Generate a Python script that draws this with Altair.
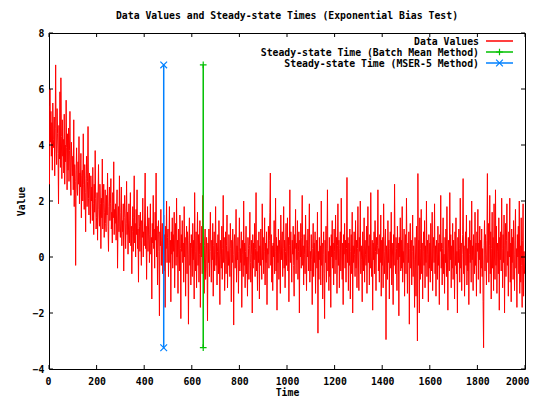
import altair as alt
import pandas as pd

title_text = "Data Values and Steady-state Times (Exponential Bias Test)"
x_label = "Time"
y_label = "Value"
x_ticks = [0, 200, 400, 600, 800, 1000, 1200, 1400, 1600, 1800, 2000]
y_ticks = [-4, -2, 0, 2, 4, 6, 8]
time_step = 2

values_0_498 = [
    5.4, 2.6, 6.0, 4.1, 5.2, 3.6, 4.8, 3.1, 5.5, 4.2,
    3.9, 5.0, 2.9, 4.6, 6.86, 4.0, 3.3, 5.3, 4.4, 3.7,
    1.9, 4.7, 3.5, 5.9, 3.2, 6.4, 4.3, 2.8, 4.9, 3.6,
    4.2, 3.0, 5.1, 2.6, 4.0, 3.4, 5.6, 3.9, 2.4, 4.4,
    3.1, 4.6, 2.7, 3.8, 5.2, 3.0, 2.2, 4.1, 3.5, 2.9,
    3.6, 2.4, 4.9, 1.8, 3.3, 2.7, -0.3, 3.1, 3.9, 2.5,
    2.2, 3.4, 2.6, 4.3, 1.9, 3.0, 2.5, 3.7, 1.4, 2.9,
    3.1, 2.0, 4.4, 2.6, 1.7, 3.3, 2.3, 0.9, 2.8, 3.6,
    1.8, 2.7, 4.66, 2.1, 1.5, 3.0, 2.4, 1.2, 2.9, 2.0,
    2.5, 1.3, 3.2, 1.9, 0.8, 2.6, 1.6, 3.8, 2.1, 1.0,
    1.4, 2.3, 0.6, 2.0, 3.3, 1.7, 1.1, 2.6, 1.9, 0.3,
    2.1, 1.4, 3.5, 1.0, 1.9, 2.6, 0.7, 1.6, 2.4, 1.2,
    0.9, 2.2, 1.5, 3.0, 1.1, 0.2, 1.8, 2.5, 1.3, 1.9,
    2.8, 1.0, 1.6, 0.5, 2.3, 1.4, 3.4, 0.8, 1.7, 1.2,
    1.9, 0.6, 1.5, 2.4, -0.4, 1.2, 1.8, 0.9, 2.9, 1.1,
    0.7, 1.6, 2.5, 0.4, 1.3, 0.9, 1.9, -0.5, 1.4, 2.2,
    1.5, 0.3, 1.2, 2.7, 0.8, 1.6, 0.1, 1.0, 1.9, 0.5,
    1.3, 2.3, 0.4, 1.1, -0.6, 0.9, 1.8, 0.2, 1.4, 2.9,
    0.5, 1.2, 0.0, 1.7, 0.8, 2.4, 0.3, 1.0, -0.9, 1.5,
    1.1, 0.2, 1.6, 0.6, -0.3, 1.3, 0.7, 2.1, 0.0, 0.9,
    0.4, 1.5, 3.0, 0.3, 1.1, -0.8, 0.6, 1.8, 0.2, 1.0,
    1.4, -0.2, 0.8, 1.9, 0.1, 0.7, -1.5, 1.2, 0.5, 2.2,
    0.3, 1.0, -0.4, 1.6, 0.6, 3.0, 0.0, 1.1, -1.0, 0.8,
    1.3, 0.2, -2.1, 0.9, 0.4, 1.7, -0.3, 0.6, 1.2, -0.6,
    0.5, 1.5, -0.5, 0.8, -1.8, 1.1, 0.3, 2.0, -0.2, 0.7,
]
values_500_998 = [
    1.0, -0.7, 0.4, 1.8, -0.2, 0.6, -1.6, 0.9, 0.1, 1.4,
    -0.4, 0.8, 0.2, 1.6, -1.1, 0.5, 1.2, -0.3, 2.1, 0.0,
    0.6, -1.3, 1.0, 0.1, -0.5, 1.5, 0.3, -2.2, 0.8, 0.2,
    1.3, -0.2, 0.5, -0.9, 1.8, 0.0, 0.7, -1.4, 0.4, 1.1,
    -0.6, 0.9, 0.1, -2.4, 0.6, 1.4, -0.3, 0.5, -1.0, 0.8,
    0.3, -0.7, 1.2, -0.1, 0.6, -1.5, 2.3, 0.2, -0.5, 0.9,
    -1.1, 0.4, 1.6, -0.3, 0.8, -0.9, 0.1, 1.3, -1.8, 0.5,
    0.0, 1.1, -0.6, 2.2, -0.2, 0.7, -1.3, 0.4, 1.0, -0.8,
    -0.4, 0.7, 0.1, -2.28, 0.5, -0.2, 1.0, -0.7, 0.3, 1.6,
    0.2, -0.9, 0.6, -0.1, 1.2, -1.4, 0.4, 0.9, -0.5, 0.1,
    1.8, -0.3, 0.5, -1.0, 0.2, 0.8, -0.6, 1.3, 0.0, -1.7,
    0.6, 0.1, -0.4, 1.1, -0.8, 0.3, 2.2, -0.2, 0.7, -1.2,
    -0.1, 0.9, -0.6, 0.4, 1.5, -1.1, 0.2, -0.3, 0.8, 0.0,
    -0.7, 1.2, 0.3, -1.6, 0.6, -0.2, 1.0, 0.1, -2.43, 0.5,
    0.8, -0.4, 0.0, 1.7, -0.9, 0.4, -0.1, 0.7, -1.3, 0.2,
    1.4, -0.5, 0.3, -0.2, 0.9, -1.8, 0.1, 0.6, -0.7, 2.0,
    -0.3, 0.5, -1.1, 0.2, 1.1, -0.6, 0.0, -1.4, 0.7, 0.3,
    -0.8, 0.4, 1.6, -0.2, -0.9, 0.6, 0.1, -2.0, 0.8, -0.4,
    0.5, -0.1, 1.2, -0.7, 0.3, 2.3, -0.5, 0.2, -1.2, 0.6,
    -0.2, 0.9, -1.5, 0.4, -0.3, 1.0, 0.0, -0.8, 1.9, -0.1,
    0.7, -0.6, 0.2, 1.4, -1.0, 0.5, -0.2, 0.9, -1.7, 0.3,
    0.1, 1.1, -0.4, 0.6, 1.6, 3.0, -0.3, 0.8, -0.9, 0.4,
    -1.2, 0.5, 0.0, 1.3, -0.6, 0.2, 2.1, -0.5, 0.7, -1.9,
    0.4, -0.2, 1.0, -0.8, 0.6, 0.1, -1.3, 1.5, -0.1, 0.5,
    0.9, -0.7, 0.3, 1.8, -0.4, 0.6, -1.1, 0.2, 1.2, -0.3,
]
values_1000_1498 = [
    0.2, 1.4, -0.5, 0.7, -1.6, 0.4, 2.4, -0.2, 0.9, 0.0,
    -0.9, 0.6, 0.1, 1.1, -0.3, -1.4, 0.8, 0.3, 1.7, -0.6,
    0.5, -0.1, 1.3, -0.8, 0.2, 0.9, -2.0, 0.6, 0.0, 1.2,
    -0.4, 0.7, 2.2, -0.3, 0.4, -1.0, 0.8, 0.1, -0.6, 1.5,
    0.3, -1.2, 0.6, 0.0, 1.0, -0.5, 0.4, 1.9, -0.9, 0.2,
    -0.5, 0.8, -0.1, -1.7, 0.3, 1.2, -0.7, 0.5, -0.2, 0.9,
    -1.3, 0.1, 0.6, -0.4, 1.6, -2.72, 0.2, -0.8, 0.7, -0.1,
    0.4, -1.0, 2.0, -0.3, 0.5, -1.5, 0.1, 0.9, -0.6, -2.2,
    0.6, -0.2, 1.1, -0.9, 0.3, 2.4, -0.5, 0.2, -1.2, 0.7,
    -0.7, 0.4, -1.8, 0.8, 0.0, 1.3, -0.4, 0.5, -1.0, 1.0,
    0.2, -0.6, 1.5, -0.1, 0.7, -1.3, 0.4, 1.9, -0.3, 0.6,
    -1.1, 0.3, 0.9, -0.5, 2.1, 0.0, -0.8, 0.5, -1.7, 0.8,
    0.1, 1.2, -0.4, 0.6, -0.9, 0.3, 2.84, -0.2, 0.7, -1.2,
    0.5, -0.3, 1.0, -1.5, 0.2, 0.8, -0.6, 1.6, -2.0, 0.4,
    -0.2, 0.9, 0.1, -0.7, 1.3, -0.4, 0.6, -1.1, 0.3, 1.8,
    0.0, -1.2, 0.7, 0.2, 2.0, -0.6, 0.4, -0.1, -1.6, 0.9,
    0.3, -0.5, 1.4, -0.9, 0.6, 0.1, -0.3, 1.1, -1.3, 0.5,
    1.8, -0.2, 0.4, -1.0, 0.8, -0.4, 2.3, 0.0, -0.7, 0.6,
    -1.9, 0.5, -0.1, 0.9, -0.6, 1.3, 0.2, -1.2, 0.7, 0.1,
    0.4, 2.4, -0.5, 0.3, -0.9, 0.8, -0.2, 1.5, -1.4, 0.6,
    -0.3, 0.7, -1.1, 1.9, 0.2, -0.6, 0.5, 1.0, -2.95, 0.4,
    0.1, -0.8, 1.3, -0.2, 0.6, -1.5, 0.3, 0.9, -0.4, 1.6,
    -1.0, 0.5, 0.0, -1.7, 0.8, -0.3, 2.6, 0.2, -0.6, 0.7,
    0.3, -1.2, 1.1, -0.1, 0.5, -2.1, 0.7, 0.0, 1.4, -0.5,
    0.6, -0.4, 1.8, -0.9, 0.2, -0.2, 1.0, -1.4, 0.4, 0.8,
]
values_1500_1998 = [
    -0.6, 2.1, 0.1, -1.3, 0.5, -0.2, 0.9, -2.4, 0.3, 1.2,
    -0.4, 0.6, -1.0, 0.2, 1.5, -0.7, 0.4, -0.1, -1.8, 0.7,
    0.0, -1.4, 1.1, -0.5, -3.0, 2.98, -0.3, 0.6, -2.0, 1.4,
    -0.8, 0.3, 1.7, -0.6, 0.5, -1.5, 0.2, 0.9, -0.3, 1.3,
    -1.1, 0.4, -0.2, 2.0, -0.7, 0.6, 0.1, -1.6, 0.8, -0.4,
    0.5, -0.9, 1.2, 0.0, -0.5, 1.6, -1.2, 0.3, 0.7, -0.2,
    1.9, -0.6, 0.4, -1.4, 0.6, 0.1, -0.8, 1.1, -0.3, 0.5,
    -1.7, 0.8, 0.2, 2.2, -0.4, 0.5, -1.0, 0.3, 1.4, -0.6,
    0.1, -1.3, 0.7, -0.2, 1.0, -0.7, 1.8, 0.0, -1.9, 0.6,
    0.3, -0.5, 2.3, -0.1, 0.8, -1.1, 0.4, -0.4, 1.2, -0.8,
    0.6, 0.0, -1.5, 0.9, -0.3, 1.4, -0.6, 0.2, -2.0, 0.7,
    -0.2, 1.0, 0.3, -0.9, 2.1, -0.4, 0.5, -1.2, 0.1, 0.8,
    2.8, -0.6, 0.4, -1.4, 0.2, 0.9, -0.3, 1.5, -1.0, 0.3,
    -0.5, 0.7, -1.7, 0.1, 1.3, -0.2, 0.6, -0.9, 2.0, -0.1,
    0.4, -1.2, 0.8, 0.0, -0.6, 1.6, -0.3, 0.5, -1.4, 0.9,
    0.2, 1.7, -0.8, 0.5, -0.1, 1.1, -1.3, 0.6, -0.4, 1.0,
    -0.7, 0.3, -1.6, -3.24, 0.4, 1.3, -0.5, 0.8, 0.1, -1.0,
    0.6, 2.98, -0.2, 1.2, -0.9, 0.4, 2.2, -0.6, 0.9, -1.5,
    0.3, 1.6, -0.4, 0.7, -1.2, 1.9, 0.0, -0.8, 2.4, -0.3,
    1.1, -1.3, 0.5, 0.2, -0.6, 1.4, -1.9, 0.7, -0.1, 0.9,
    -0.5, 2.1, 0.3, -1.1, 0.8, -0.2, 1.5, -2.0, 0.4, 1.2,
    -0.7, 0.6, 1.9, -0.3, 0.2, -1.4, 0.9, 0.0, 2.1, -0.9,
    0.5, -1.6, 1.0, -0.2, 0.7, -0.8, 1.3, 0.1, -1.2, 0.6,
    1.7, -0.4, 0.3, -1.8, 0.8, 0.0, 1.1, -0.6, 2.0, -1.3,
    0.4, -0.9, 1.4, -0.3, -1.8, 0.6, 1.9, -1.4, 0.2, -0.6,
]

series_names = [
    "Data Values",
    "Steady-state Time (Batch Mean Method)",
    "Steady-state Time (MSER-5 Method)",
]
series_colors = ["#ff0000", "#00c000", "#0080ff"]
steady_times = [648, 482]          # batch mean, MSER-5
steady_low = -3.24
steady_high = 6.86

values = values_0_498 + values_500_998 + values_1000_1498 + values_1500_1998
times = [i * time_step for i in range(len(values))]
df = pd.DataFrame({"t": times, "v": values})

W, H = 476, 336
FONT = "DejaVu Sans Mono"
FS = 9.8
PLUS = "M-1,0L1,0M0,-1L0,1"
CROSS = "M-1,-1L1,1M-1,1L1,-1"

x_scale = alt.Scale(domain=[0, 2000], nice=False, zero=False)
y_scale = alt.Scale(domain=[-4, 8], nice=False, zero=False)

line = alt.Chart(df).mark_line(color=series_colors[0], strokeWidth=1, clip=True).encode(
    x=alt.X("t:Q", scale=x_scale,
            axis=alt.Axis(values=x_ticks, title=x_label, ticks=False, domain=False, grid=False,
                          labelPadding=7, titlePadding=2, labelFlush=True, labelFlushOffset=4,
                          format="d")),
    y=alt.Y("v:Q", scale=y_scale,
            axis=alt.Axis(values=y_ticks, title=y_label, ticks=False, domain=False, grid=False,
                          labelPadding=5, titlePadding=6, labelFlush=False, format="d")),
)

ss_df = pd.DataFrame({
    "t": steady_times,
    "lo": [steady_low, steady_low],
    "hi": [steady_high, steady_high],
    "name": series_names[1:],
})
ss_pts = pd.DataFrame({
    "t": steady_times * 2,
    "y": [steady_low, steady_low, steady_high, steady_high],
    "name": series_names[1:] * 2,
})
color_scale = alt.Scale(domain=series_names[1:], range=series_colors[1:])
shape_scale = alt.Scale(domain=series_names[1:], range=[PLUS, CROSS])

ss_rules = alt.Chart(ss_df).mark_rule(strokeWidth=1.5).encode(
    x=alt.X("t:Q", scale=x_scale),
    y=alt.Y("lo:Q", scale=y_scale),
    y2="hi:Q",
    color=alt.Color("name:N", scale=color_scale, legend=None),
)
ss_marks = alt.Chart(ss_pts).mark_point(filled=False, strokeWidth=1.2, size=45, opacity=1).encode(
    x=alt.X("t:Q", scale=x_scale),
    y=alt.Y("y:Q", scale=y_scale),
    color=alt.Color("name:N", scale=color_scale, legend=None),
    shape=alt.Shape("name:N", scale=shape_scale, legend=None),
)

# inward ticks on all four sides
xt_df = pd.DataFrame({"xt": x_ticks})
yt_df = pd.DataFrame({"yt": y_ticks})
TL = 4
tick_x_bottom = alt.Chart(xt_df).mark_rule(color="black", strokeWidth=1).encode(
    x=alt.X("xt:Q", scale=x_scale), y=alt.value(H), y2=alt.value(H - TL))
tick_x_top = alt.Chart(xt_df).mark_rule(color="black", strokeWidth=1).encode(
    x=alt.X("xt:Q", scale=x_scale), y=alt.value(0), y2=alt.value(TL))
tick_y_left = alt.Chart(yt_df).mark_rule(color="black", strokeWidth=1).encode(
    y=alt.Y("yt:Q", scale=y_scale), x=alt.value(0), x2=alt.value(TL))
tick_y_right = alt.Chart(yt_df).mark_rule(color="black", strokeWidth=1).encode(
    y=alt.Y("yt:Q", scale=y_scale), x=alt.value(W), x2=alt.value(W - TL))

# chart title as a text mark above the plot frame
title_mark = alt.Chart(pd.DataFrame({"label": [title_text]})).mark_text(
    align="center", baseline="middle", font=FONT, fontSize=FS, fontWeight="bold", color="black"
).encode(text="label:N", x=alt.value(W / 2), y=alt.value(-17))

# legend (gnuplot style: text right-aligned, sample to the right)
legend_rows_y = [8, 19, 30]
legend_layers = []
shapes = [None, PLUS, CROSS]
for i, name in enumerate(series_names):
    ldf = pd.DataFrame({"label": [name]})
    ry = legend_rows_y[i]
    legend_layers.append(
        alt.Chart(ldf).mark_text(align="right", baseline="middle", font=FONT, fontSize=FS,
                                 fontWeight="bold", color="black").encode(
            text="label:N", x=alt.value(430), y=alt.value(ry + 0.5)))
    legend_layers.append(
        alt.Chart(ldf).mark_rule(color=series_colors[i], strokeWidth=1.5).encode(
            x=alt.value(437), x2=alt.value(464), y=alt.value(ry)))
    if shapes[i]:
        legend_layers.append(
            alt.Chart(ldf).mark_point(shape=shapes[i], filled=False, strokeWidth=1.2, size=45,
                                      color=series_colors[i], opacity=1).encode(
                x=alt.value(450.5), y=alt.value(ry)))

chart = alt.layer(
    line, ss_rules, ss_marks,
    tick_x_bottom, tick_x_top, tick_y_left, tick_y_right,
    title_mark, *legend_layers,
).properties(
    width=W, height=H,
    padding={"left": 41, "top": 25, "right": 7, "bottom": 28},
    autosize=alt.AutoSizeParams(type="none"),
).configure_view(
    stroke="black", strokeWidth=1
).configure_axis(
    labelFont=FONT, labelFontSize=FS, labelFontWeight="bold", labelColor="black",
    titleFont=FONT, titleFontSize=FS, titleFontWeight="bold", titleColor="black",
)

chart.save("out.html", embed_options={"renderer": "svg", "actions": False})
